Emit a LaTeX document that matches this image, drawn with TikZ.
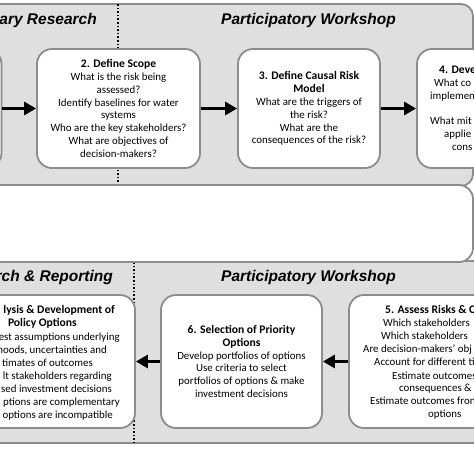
\documentclass[tikz,border=0pt]{standalone}
\usepackage{fontspec}
\setmainfont{Carlito}
\newfontfamily\headfont{Liberation Sans}
\usetikzlibrary{arrows.meta}

\newcommand{\boxtext}{\fontsize{10.9}{12.9}\selectfont}
\newcommand{\boxtitle}{\fontsize{11.6}{13.6}\selectfont\bfseries}

\begin{document}
\begin{tikzpicture}[
    x=1pt, y=-1pt,
    band/.style={
        draw=black!45,
        line width=1.8pt,
        fill=gray!25,
        rounded corners=12pt
    },
    box/.style={
        draw=black!45,
        line width=1.8pt,
        fill=white,
        rounded corners=15pt,
        align=center,
        inner sep=0pt,
        font=\boxtext
    },
    arrow/.style={
        -{Triangle[length=12pt,width=13pt]},
        line width=3.2pt,
        black
    },
    divider/.style={
        dotted,
        line width=1.6pt
    },
    heading/.style={
        font=\headfont\bfseries\itshape\fontsize{15.5}{18}\selectfont,
        inner sep=0pt
    },
    txt/.style={
        font=\boxtext,
        inner sep=0pt
    }
]
    \useasboundingbox (0,0) rectangle (474,474);

    % Background bands
    \draw[band] (-60,4) rectangle (473,186);
    \draw[band] (-60,261) rectangle (500,443);

    % Dividers between stages
    \draw[divider] (118,4) -- (118,185);
    \draw[divider] (134,262) -- (134,443);

    % Middle strip
    \draw[box, rounded corners=14pt] (-60,185) rectangle (473,262);

    % Top row
    \node[box, minimum width=160, minimum height=119] (research) at (-78.5,108.5) {};
    \node[box, minimum width=163, minimum height=119] (scope) at (118.5,108.5) {{\boxtitle 2. Define Scope}\\What is the risk being\\assessed?\\Identify baselines for water\\systems\\Who are the key stakeholders?\\What are objectives of\\decision-makers?};
    \node[box, minimum width=142, minimum height=119] (causal) at (309,108.5) {{\boxtitle 3. Define Causal Risk}\\{\boxtitle Model}\\What are the triggers of\\the risk?\\What are the\\consequences of the risk?};
    \node[box, minimum width=160, minimum height=119] (develop) at (497,108.5) {};

    % Bottom row
    \node[box, minimum width=163, minimum height=133] (analysis) at (53.5,361.5) {};
    \node[box, minimum width=161, minimum height=133] (select) at (241.5,361.5) {{\boxtitle 6. Selection of Priority}\\{\boxtitle Options}\\Develop portfolios of options\\Use criteria to select\\portfolios of options \& make\\investment decisions};
    \node[box, minimum width=163, minimum height=133] (assess) at (430.5,361.5) {};

    % Connecting arrows
    \draw[arrow] (research) -- (scope);
    \draw[arrow] (scope) -- (causal);
    \draw[arrow] (causal) -- (develop);
    \draw[arrow] (assess) -- (select);
    \draw[arrow] (select) -- (analysis);

    % Stage headings
    \node[heading, anchor=base east] (prelim) at (97,24.5) {ary Research};
    \node[heading, anchor=base] (workshop1) at (308.5,24.5) {Participatory Workshop};
    \node[heading, anchor=base east] (report) at (113,281) {rch \& Reporting};
    \node[heading, anchor=base] (workshop2) at (308.5,281) {Participatory Workshop};

    % Text of the boxes cut at the edges
    \node[txt, anchor=mid west, font=\boxtitle] at (439,71) {4. Deve};
    \foreach \y/\x/\t in {84/434/What co, 97/430/implemen, 122/430/What mit, 135/444/applie, 148/452/cons}
        \node[txt, anchor=mid west] at (\x,\y) {\t};

    \node[txt, anchor=mid east, font=\boxtitle] at (115,311) {lysis \& Development of};
    \node[txt, anchor=mid east, font=\boxtitle] at (77,324) {Policy Options};
    \foreach \y/\x/\t in {338/120/est assumptions underlying, 351/107/{hoods, uncertainties and}, 364/93/timates of outcomes, 377/112/lt stakeholders regarding, 390/112/sed investment decisions, 403/120/ptions are complementary, 416/113/options are incompatible}
        \node[txt, anchor=mid east] at (\x,\y) {\t};

    \node[txt, anchor=mid west, font=\boxtitle] at (385,311) {5. Assess Risks \& C};
    \foreach \y/\x/\t in {324/383/Which stakeholders, 337/381/Which stakeholders, 350/363/Are decision-makers' obj, 363/374/Account for different ti, 377/392/Estimate outcomes, 389/399/consequences \&, 402/370/Estimate outcomes fron, 415/428/options}
        \node[txt, anchor=mid west] at (\x,\y) {\t};
\end{tikzpicture}
\end{document}
